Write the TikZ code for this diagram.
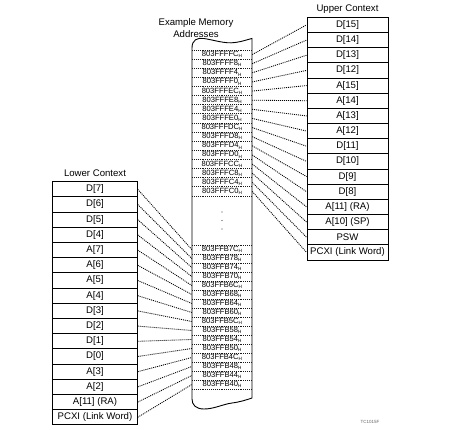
\documentclass[tikz,border=0pt]{standalone}
\usepackage{fontspec}
\setmainfont{Liberation Sans}
\begin{document}
\begin{tikzpicture}[x=1pt,y=-1pt,
  regbox/.style={draw=black, line width=0.85pt, inner sep=0pt, font=\fontsize{9.6}{10}\selectfont, text=black},
  memcell/.style={inner sep=0pt, minimum width=60pt, font=\fontsize{7.6}{8}\selectfont, text=black},
  hdr/.style={inner sep=0pt, font=\fontsize{9.6}{11.5}\selectfont, text=black, align=center},
  conn/.style={dash pattern=on 1pt off 1pt, line width=0.85pt, black},
  divider/.style={dash pattern=on 0.9pt off 1pt, line width=0.75pt, black!90},
  outline/.style={line width=0.9pt, black}]
\useasboundingbox (0,0) rectangle (474,430);
\newcommand{\hx}[1]{#1\raisebox{-1.3pt}{\fontsize{4.6}{5}\selectfont H}}
% headers
\node[hdr] (hmem) at (196,28) {Example Memory\\Addresses};
\node[hdr] (hup) at (347.5,9) {Upper Context};
\node[hdr] (hlo) at (95,173.5) {Lower Context};
\node[inner sep=0pt, font=\fontsize{4.5}{5}\selectfont, text=black!60] (tc) at (370,421.5) {TC1015F};
% memory outline
\draw[outline] (192,48) .. controls (192,40) and (197,37.5) .. (204,38.5)
  .. controls (214,40) and (225,44) .. (235,42.5)
  .. controls (243,41.5) and (249,39) .. (252,38.5)
  -- (252,398)
  .. controls (246,400) and (240,402) .. (232,403)
  .. controls (222,404.5) and (214,409) .. (204,409)
  .. controls (196,409) and (192,405) .. (192,399) -- cycle;
% upper memory cells
\foreach \lab [count=\i from 0] in {FFFC,FFF8,FFF4,FFF0,FFEC,FFE8,FFE4,FFE0,FFDC,FFD8,FFD4,FFD0,FFCC,FFC8,FFC4,FFC0} {
  \node[memcell, minimum height=9.125pt] (mu\i) at (222,{50+9.125*(\i+0.5)}) {\hx{803F\lab}};
  \draw[divider] (192,{50+9.125*(\i+1)}) -- (252,{50+9.125*(\i+1)});
}
\draw[divider] (192,50) -- (252,50);
% lower memory cells
\foreach \lab [count=\i from 0] in {FB7C,FB78,FB74,FB70,FB6C,FB68,FB64,FB60,FB5C,FB58,FB54,FB50,FB4C,FB48,FB44,FB40} {
  \node[memcell, minimum height=9pt] (ml\i) at (222,{245+9*(\i+0.5)}) {\hx{803F\lab}};
  \draw[divider] (192,{245+9*(\i+1)}) -- (252,{245+9*(\i+1)});
}
\draw[divider] (192,245) -- (252,245);
% vertical ellipsis
\foreach \yy/\nm in {212/da,220.5/db,229/dc}
  \fill[black!75] (222,\yy) circle (0.6pt) coordinate (\nm);
% upper context
\foreach \lab [count=\i from 0] in {D[15],D[14],D[13],D[12],A[15],A[14],A[13],A[12],D[11],D[10],D[9],D[8],A[11] (RA),A[10] (SP),PSW,PCXI (Link Word)} {
  \node[regbox, minimum width=81pt, minimum height=15.17pt] (uc\i) at (347.5,{17.3+15.17*(\i+0.5)}) {\lab};
}
% lower context
\foreach \lab [count=\i from 0] in {D[7],D[6],D[5],D[4],A[7],A[6],A[5],A[4],D[3],D[2],D[1],D[0],A[3],A[2],A[11] (RA),PCXI (Link Word)} {
  \node[regbox, minimum width=84.6pt, minimum height=15.2pt] (lc\i) at (95,{181.7+15.2*(\i+0.5)}) {\lab};
}
% connectors
\foreach \i in {0,...,15} {
  \draw[conn] (mu\i.east) -- (uc\i.west);
  \draw[conn] (lc\i.east) -- (ml\i.west);
}
\end{tikzpicture}
\end{document}
